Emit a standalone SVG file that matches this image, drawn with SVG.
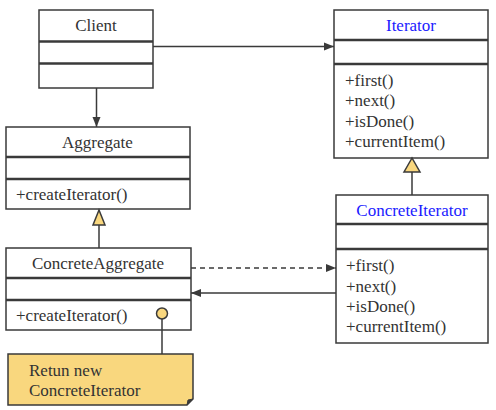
<svg xmlns="http://www.w3.org/2000/svg" width="496" height="410" viewBox="0 0 496 410">
<style>
.box{fill:#fff;stroke:#3a3a3a;stroke-width:1.5}
.sep{stroke:#3a3a3a;stroke-width:2.5}
.t{font-family:"Liberation Serif","DejaVu Serif","Times New Roman",serif;font-size:17px;fill:#333}
.c{text-anchor:middle}
.blue{fill:#1a1aff}
.con{stroke:#3a3a3a;stroke-width:1.5;fill:none}
.gen{fill:#f9d77e;stroke:#3a3a3a;stroke-width:1.5}
</style>
<defs>
<marker id="arr" viewBox="0 0 10 10" refX="10" refY="5" markerWidth="10" markerHeight="10" markerUnits="userSpaceOnUse" orient="auto">
<path d="M0,1 L10,5 L0,9 Z" fill="#3a3a3a"/>
</marker>
</defs>
<rect width="496" height="410" fill="#fff"/>
<g id="client">
<rect class="box" x="39" y="10" width="114" height="78"/>
<line class="sep" x1="39" y1="41.5" x2="153" y2="41.5"/>
<line class="sep" x1="39" y1="63.5" x2="153" y2="63.5"/>
<text class="t c" x="96" y="31">Client</text>
</g>
<g id="aggregate">
<rect class="box" x="6" y="127" width="184" height="82"/>
<line class="sep" x1="6" y1="157" x2="190" y2="157"/>
<line class="sep" x1="6" y1="179" x2="190" y2="179"/>
<text class="t c" x="97.5" y="148">Aggregate</text>
<text class="t" x="16" y="200">+createIterator()</text>
</g>
<g id="iterator">
<rect class="box" x="334" y="10" width="154" height="148"/>
<line class="sep" x1="334" y1="40" x2="488" y2="40"/>
<line class="sep" x1="334" y1="64" x2="488" y2="64"/>
<text class="t c blue" x="411" y="31">Iterator</text>
<text class="t" x="345" y="86">+first()</text>
<text class="t" x="345" y="106">+next()</text>
<text class="t" x="345" y="126.5">+isDone()</text>
<text class="t" x="345" y="147">+currentItem()</text>
</g>
<g id="concreteIterator">
<rect class="box" x="336" y="195" width="152" height="148"/>
<line class="sep" x1="336" y1="224" x2="488" y2="224"/>
<line class="sep" x1="336" y1="249" x2="488" y2="249"/>
<text class="t c blue" x="412" y="216">ConcreteIterator</text>
<text class="t" x="346" y="271">+first()</text>
<text class="t" x="346" y="291.5">+next()</text>
<text class="t" x="346" y="311.5">+isDone()</text>
<text class="t" x="346" y="332">+currentItem()</text>
</g>
<g id="concreteAggregate">
<rect class="box" x="6" y="248" width="185" height="82"/>
<line class="sep" x1="6" y1="278" x2="191" y2="278"/>
<line class="sep" x1="6" y1="300" x2="191" y2="300"/>
<text class="t c" x="98" y="269">ConcreteAggregate</text>
<text class="t" x="16" y="321">+createIterator()</text>
</g>
<g id="note">
<path d="M8,354 H193 V399 L187,405 H8 Z" fill="#f9d77e" stroke="#3a3a3a" stroke-width="1.5"/>
<path d="M187,405 L188,400 L193,399" fill="#3a3a3a" stroke="#3a3a3a" stroke-width="1"/>
<text class="t" x="29" y="375.5">Retun new</text>
<text class="t" x="29" y="396">ConcreteIterator</text>
</g>
<g id="connectors">
<line class="con" x1="153" y1="46.5" x2="334" y2="46.5" marker-end="url(#arr)"/>
<line class="con" x1="96.5" y1="88" x2="96.5" y2="127" marker-end="url(#arr)"/>
<line class="con" x1="412" y1="172" x2="412" y2="195"/>
<polygon class="gen" points="412,158 404,172 420,172"/>
<line class="con" x1="99" y1="225" x2="99" y2="248"/>
<polygon class="gen" points="99,210 93,225 105,225"/>
<line class="con" x1="191" y1="268" x2="336" y2="268" stroke-dasharray="5,4" marker-end="url(#arr)"/>
<line class="con" x1="336" y1="293" x2="191" y2="293" marker-end="url(#arr)"/>
<line class="con" x1="162" y1="319" x2="162" y2="354"/>
<circle cx="162" cy="313.5" r="5.5" fill="#f9d77e" stroke="#3a3a3a" stroke-width="1.5"/>
</g>
</svg>
